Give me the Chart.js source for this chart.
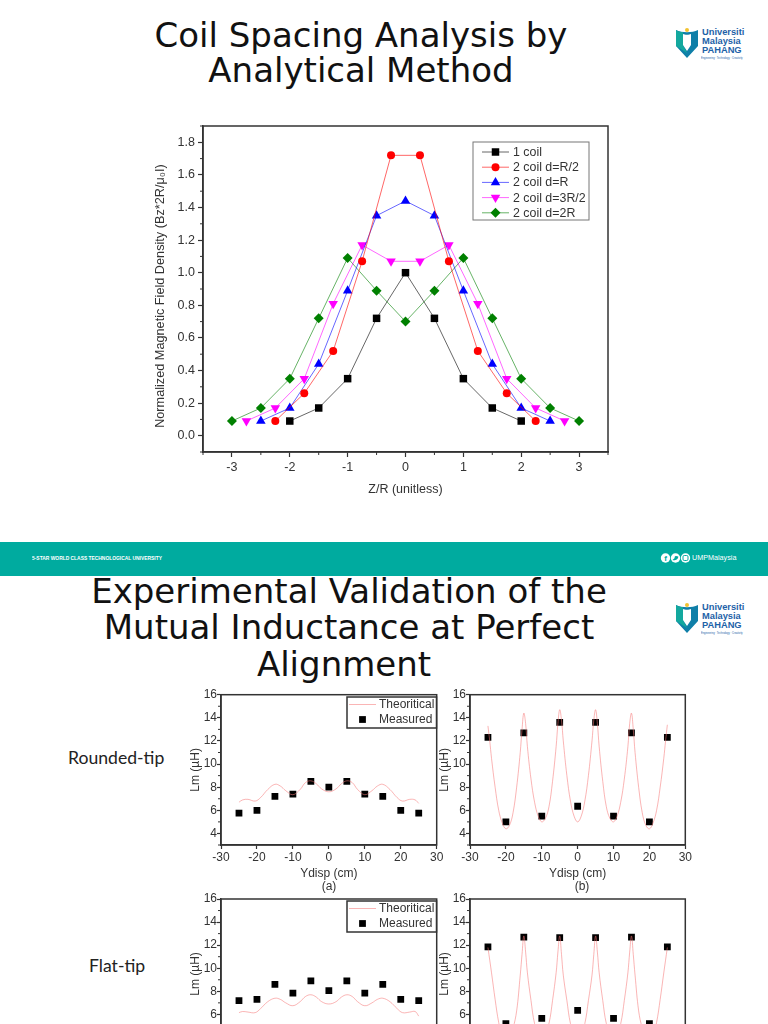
<!DOCTYPE html>
<html>
<head>
<meta charset="utf-8">
<title>Coil Spacing Analysis</title>
<script src="https://cdn.jsdelivr.net/npm/chart.js@4"></script>
<style>
  html, body { margin: 0; padding: 0; background: #fff; }
  body { position: relative; width: 768px; height: 1024px; overflow: hidden; font-family: "DejaVu Sans", sans-serif; color: #111; }
  .title { position: absolute; white-space: nowrap; transform: translateX(-50%); font-size: 34px; line-height: 36px; }
  .side { position: absolute; font: 17.6px Lato, sans-serif; color: #222; white-space: nowrap; }
  .cap { position: absolute; font: 12px "Liberation Sans", sans-serif; color: #333; transform: translateX(-50%); }
  .band { position: absolute; left: 0; top: 542px; width: 768px; height: 34px; background: #00ab9f; color: #fff; }
  .band .l { position: absolute; left: 32px; top: 13px; font: bold 5px "Liberation Sans", sans-serif; white-space: nowrap; transform-origin: left; transform: scaleX(.98); }
  .band .r { position: absolute; left: 692px; top: 11px; font: 8px "Liberation Sans", sans-serif; white-space: nowrap; transform-origin: left; transform: scaleX(.9); }
  .band svg { position: absolute; left: 660px; top: 9px; }
  .logo { position: absolute; left: 675px; width: 72px; height: 32px; }
  .logo svg { position: absolute; left: 0; top: 0; }
  .logo b { position: absolute; left: 27px; font: bold 9.3px "Liberation Sans", sans-serif; color: #1d62a8; }
  .logo i { position: absolute; left: 26px; top: 29px; font: 3px "Liberation Sans", sans-serif; color: #1d62a8; white-space: nowrap; transform-origin: left; transform: scaleX(.85); }
  .box { position: absolute; }
</style>
</head>
<body>
<div class="title" style="left:361px;top:17px">Coil Spacing Analysis by</div>
<div class="title" style="left:361px;top:52px">Analytical Method</div>

<div class="band">
  <div class="l">5-STAR WORLD CLASS TECHNOLOGICAL UNIVERSITY</div>
  <svg width="32" height="14">
    <circle cx="5.5" cy="7" r="4.7" fill="#fff"/><circle cx="15.5" cy="7" r="4.7" fill="#fff"/><circle cx="25.5" cy="7" r="4.7" fill="#fff"/>
    <text x="5.5" y="10" font-size="8" font-family="Liberation Sans" font-weight="bold" text-anchor="middle" fill="#00ab9f">f</text>
    <path d="M12.5 9 C15 10 18.5 8 18.3 5.4 L16 5 C14.5 5 14.5 6.5 14.7 7 Z" fill="#00ab9f"/>
    <rect x="23" y="4.5" width="5" height="5" rx="1.3" fill="none" stroke="#00ab9f"/>
  </svg>
  <div class="r">UMPMalaysia</div>
</div>

<div class="title" style="left:349px;top:573px">Experimental Validation of the</div>
<div class="title" style="left:349px;top:609px">Mutual Inductance at Perfect</div>
<div class="title" style="left:344px;top:646px">Alignment</div>

<div class="side" style="left:68px;top:747px">Rounded-tip</div>
<div class="side" style="left:89px;top:955px">Flat-tip</div>

<div class="logo" style="top:27px" id="logoA"></div>
<div class="logo" style="top:602px" id="logoB"></div>

<div class="box" style="left:140px;top:115px;width:480px;height:385px"><canvas id="chartMain"></canvas></div>
<div class="box" style="left:185px;top:685px;width:275px;height:196px"><canvas id="chartA"></canvas></div>
<div class="box" style="left:434px;top:685px;width:275px;height:196px"><canvas id="chartB"></canvas></div>
<div class="box" style="left:185px;top:889px;width:275px;height:196px"><canvas id="chartC"></canvas></div>
<div class="box" style="left:434px;top:889px;width:275px;height:196px"><canvas id="chartD"></canvas></div>
<div class="cap" style="left:329px;top:879px">(a)</div>
<div class="cap" style="left:582px;top:879px">(b)</div>

<script>
// field density curves
const coil1X = [-2, -1.5, -1, -0.5, 0, 0.5, 1, 1.5, 2];
const coil1Y = [0.09, 0.17, 0.35, 0.72, 1.0, 0.72, 0.35, 0.17, 0.09];
const halfRX = [-2.25, -1.75, -1.25, -0.75, -0.25, 0.25, 0.75, 1.25, 1.75, 2.25];
const halfRY = [0.09, 0.26, 0.52, 1.07, 1.72, 1.72, 1.07, 0.52, 0.26, 0.09];
const oneRX = [-2.5, -2, -1.5, -1, -0.5, 0, 0.5, 1, 1.5, 2, 2.5];
const oneRY = [0.09, 0.17, 0.44, 0.89, 1.35, 1.44, 1.35, 0.89, 0.44, 0.17, 0.09];
const threeHalfX = [-2.75, -2.25, -1.75, -1.25, -0.75, -0.25, 0.25, 0.75, 1.25, 1.75, 2.25, 2.75];
const threeHalfY = [0.09, 0.17, 0.35, 0.81, 1.17, 1.07, 1.07, 1.17, 0.81, 0.35, 0.17, 0.09];
const twoRX = [-3, -2.5, -2, -1.5, -1, -0.5, 0, 0.5, 1, 1.5, 2, 2.5, 3];
const twoRY = [0.09, 0.17, 0.35, 0.72, 1.09, 0.89, 0.70, 0.89, 1.09, 0.72, 0.35, 0.17, 0.09];

const mainXTicks = [-3, -2, -1, 0, 1, 2, 3];
const mainXMinor = [-3.5, -2.5, -1.5, -0.5, 0.5, 1.5, 2.5, 3.5];
const mainYTicks = [0, 0.2, 0.4, 0.6, 0.8, 1.0, 1.2, 1.4, 1.6, 1.8];
const mainYMinor = [-0.1, 0.1, 0.3, 0.5, 0.7, 0.9, 1.1, 1.3, 1.5, 1.7, 1.9];

// mutual inductance panels
const measuredX = [-25, -20, -15, -10, -5, 0, 5, 10, 15, 20, 25];
const measuredA = [5.75, 6.0, 7.2, 7.4, 8.5, 8.0, 8.5, 7.4, 7.2, 6.0, 5.75];
const measuredB = [12.3, 5.0, 12.7, 5.5, 13.6, 6.35, 13.6, 5.5, 12.7, 5.0, 12.3];
const measuredC = [7.2, 7.3, 8.6, 7.85, 8.9, 8.05, 8.9, 7.85, 8.6, 7.3, 7.2];
const measuredD = [11.85, 5.2, 12.7, 5.65, 12.65, 6.35, 12.65, 5.65, 12.7, 5.2, 11.85];

const theoryAX = [-25, -24, -22.5, -20.5, -19, -17, -15, -13.5, -12, -10, -8, -6.5, -5, -3.5, -2, 0, 2, 3.5, 5, 6.5, 8, 10, 12, 13.5, 15, 17, 19, 20.5, 22.5, 24, 25];
const theoryA = [6.7, 6.9, 6.95, 6.8, 7.1, 7.8, 8.25, 8.1, 7.7, 7.35, 7.8, 8.4, 8.55, 8.3, 7.85, 7.6, 7.85, 8.3, 8.55, 8.4, 7.8, 7.35, 7.7, 8.1, 8.25, 7.8, 7.1, 6.8, 6.95, 6.9, 6.6];
const theoryCY = [6.15, 6.25, 6.2, 6.15, 6.5, 7.1, 7.4, 7.3, 7.0, 6.75, 7.1, 7.55, 7.7, 7.5, 7.1, 6.9, 7.1, 7.5, 7.7, 7.55, 7.1, 6.75, 7.0, 7.3, 7.4, 7.1, 6.5, 6.15, 6.2, 6.25, 5.85];

const theoryBX = [-25, -24.5, -24, -23, -22, -21, -20, -19, -18, -17, -16, -15.5, -15, -14.5, -14, -13, -12, -11, -10, -9, -8, -7, -6, -5.5, -5, -4.5, -4, -3, -2, -1, 0, 1, 2, 3, 4, 4.5, 5, 5.5, 6, 7, 8, 9, 10, 11, 12, 13, 14, 14.5, 15, 15.5, 16, 17, 18, 19, 20, 21, 22, 23, 24, 24.5, 25];
const theoryB = [13.3, 12, 10.5, 8, 6, 4.9, 4.4, 4.7, 5.8, 8, 11, 13, 14.4, 13.5, 11.5, 8.7, 6.7, 5.5, 5.0, 5.3, 6.3, 8.5, 11.5, 13.5, 14.7, 13.8, 12, 9, 6.8, 5.5, 5.0, 5.5, 6.8, 9, 12, 13.8, 14.7, 13.5, 11.5, 8.5, 6.3, 5.3, 5.0, 5.5, 6.7, 8.7, 11.5, 13.5, 14.4, 13, 11, 8, 5.8, 4.7, 4.4, 4.9, 6, 8, 10.5, 12, 13.4];
const theoryDX = [-25, -24, -23, -22, -21, -20, -19, -18, -17, -16, -15.5, -15, -14.5, -14, -13, -12, -11, -10, -9, -8, -7, -6, -5.5, -5, -4.5, -4, -3, -2, -1, 0, 1, 2, 3, 4, 4.5, 5, 5.5, 6, 7, 8, 9, 10, 11, 12, 13, 14, 14.5, 15, 15.5, 16, 17, 18, 19, 20, 21, 22, 23, 24, 25];
const theoryD = [11.8, 9.6, 7.3, 5.3, 4.1, 3.6, 3.9, 4.8, 6.3, 9.4, 11.2, 12.8, 11.4, 9.6, 7.2, 5.2, 4.5, 4.4, 4.5, 5.2, 7.2, 9.6, 11.4, 12.8, 11.2, 9.4, 7.2, 5.2, 4.4, 4.2, 4.4, 5.2, 7.2, 9.4, 11.2, 12.8, 11.4, 9.6, 7.2, 5.2, 4.5, 4.4, 4.5, 5.2, 7.2, 9.6, 11.4, 12.8, 11.2, 9.4, 6.3, 4.8, 3.9, 3.6, 4.1, 5.3, 7.3, 9.6, 11.8];

const lmXTicks = [-30, -20, -10, 0, 10, 20, 30];
const lmYTicks = [4, 6, 8, 10, 12, 14, 16];
const lmYMinor = [3, 5, 7, 9, 11, 13, 15];

const axisColor = '#333';
const tickFont = '"Liberation Sans", sans-serif';

function pairs(xs, ys) {
  return xs.map((x, i) => ({ x: x, y: ys[i] }));
}

// outer frame, short minor ticks and the floating legend box
const framePlugin = {
  id: 'frame',
  afterDatasetsDraw(chart, args, opts) {
    const ctx = chart.ctx, a = chart.chartArea;
    ctx.save();
    ctx.strokeStyle = axisColor;
    ctx.lineWidth = 1.5;
    ctx.strokeRect(a.left, a.top, a.right - a.left, a.bottom - a.top);
    ctx.lineWidth = 1;
    ctx.beginPath();
    (opts.xMinor || []).forEach(v => {
      const px = chart.scales.x.getPixelForValue(v);
      ctx.moveTo(px, a.bottom); ctx.lineTo(px, a.bottom + 3);
    });
    (opts.yMinor || []).forEach(v => {
      const py = chart.scales.y.getPixelForValue(v);
      ctx.moveTo(a.left, py); ctx.lineTo(a.left - 3, py);
    });
    ctx.stroke();

    const lg = opts.legend;
    if (!lg) { ctx.restore(); return; }
    ctx.fillStyle = '#fff';
    ctx.fillRect(lg.x, lg.y, lg.w, lg.h);
    ctx.lineWidth = lg.lineWidth;
    ctx.strokeStyle = lg.color;
    ctx.strokeRect(lg.x, lg.y, lg.w, lg.h);
    ctx.font = lg.size + 'px ' + tickFont;
    ctx.textBaseline = 'middle';
    chart.data.datasets.forEach((ds, i) => {
      const y = lg.y + lg.first + i * lg.step;
      if (ds.showLine !== false) {
        ctx.strokeStyle = ds.borderColor;
        ctx.lineWidth = 1;
        ctx.beginPath();
        ctx.moveTo(lg.x + lg.sample0, y); ctx.lineTo(lg.x + lg.sample1, y);
        ctx.stroke();
      }
      if (ds.pointRadius > 0) {
        ctx.fillStyle = ds.pointBackgroundColor;
        ctx.strokeStyle = ds.pointBackgroundColor;
        Chart.helpers.drawPoint(ctx, {
          pointStyle: ds.pointStyle, rotation: ds.pointRotation || 0,
          radius: ds.pointRadius, borderWidth: 0
        }, lg.x + (lg.sample0 + lg.sample1) / 2, y);
      }
      ctx.fillStyle = axisColor;
      ctx.fillText(ds.label, lg.x + lg.textX, y + 0.5);
    });
    ctx.restore();
  }
};

function scaleOpts(o) {
  return {
    type: 'linear',
    min: o.min,
    max: o.max,
    title: { display: true, text: o.title, color: axisColor, padding: o.titlePad, font: { family: tickFont, size: o.titleSize } },
    ticks: { color: axisColor, padding: o.tickPad, maxRotation: 0, autoSkip: false, font: { family: tickFont, size: o.size },
             callback: o.format },
    grid: { drawOnChartArea: false, color: axisColor, tickLength: o.tickLen, tickWidth: 1.2 },
    border: { color: axisColor, width: 1.5 },
    afterBuildTicks: s => { s.ticks = o.ticks.map(v => ({ value: v })); },
    afterFit: s => {
      if (s.axis === 'x') { s.height = o.thick; s.paddingLeft = 0; s.paddingRight = 0; }
      else { s.width = o.thick; s.paddingTop = 0; s.paddingBottom = 0; }
    }
  };
}

function build(id, datasets, padding, xs, ys, frame) {
  return new Chart(document.getElementById(id), {
    type: 'line',
    data: { datasets: datasets },
    options: {
      responsive: true,
      maintainAspectRatio: false,
      animation: false,
      parsing: false,
      layout: { padding: padding },
      plugins: { legend: { display: false }, tooltip: { enabled: false }, frame: frame },
      scales: { x: scaleOpts(xs), y: scaleOpts(ys) }
    },
    plugins: [framePlugin]
  });
}

function series(label, xs, ys, lineColor, markColor, style, radius, rotation) {
  return {
    label: label, data: pairs(xs, ys), borderColor: lineColor, borderWidth: 1, tension: 0,
    pointStyle: style, pointRadius: radius, pointRotation: rotation || 0,
    pointBackgroundColor: markColor, pointBorderColor: markColor, pointBorderWidth: 0
  };
}

build('chartMain', [
  series('1 coil', coil1X, coil1Y, 'rgba(0,0,0,.6)', '#000', 'rect', 5.3),
  series('2 coil d=R/2', halfRX, halfRY, 'rgba(255,0,0,.6)', '#f00', 'circle', 4),
  series('2 coil d=R', oneRX, oneRY, 'rgba(0,0,255,.6)', '#00f', 'triangle', 5.5),
  series('2 coil d=3R/2', threeHalfX, threeHalfY, 'rgba(255,0,255,.6)', '#f0f', 'triangle', 5.5, 180),
  series('2 coil d=2R', twoRX, twoRY, 'rgba(0,128,0,.6)', '#008000', 'rectRot', 5)
], { top: 11, right: 12 },
{ min: -3.5, max: 3.5, ticks: mainXTicks, thick: 48, size: 12.5, tickLen: 5, tickPad: 3, title: 'Z/R (unitless)', titleSize: 12.5, titlePad: { top: 5, bottom: 3 } },
// trailing no-break spaces sit the rotated label a little below the axis centre
{ min: -0.1, max: 1.9, ticks: mainYTicks, thick: 63, size: 12.5, tickLen: 5, tickPad: 3, title: 'Normalized Magnetic Field Density (Bz*2R/\u03bc\u2080I)\u00a0\u00a0\u00a0\u00a0', titleSize: 12.7, titlePad: { top: 13, bottom: 4 },
  format: v => v.toFixed(1) },
{ xMinor: mainXMinor, yMinor: mainYMinor,
  legend: { x: 333, y: 27, w: 116, h: 78, size: 12.4, color: '#777', lineWidth: 1, first: 10, step: 15.2, sample0: 9, sample1: 36, textX: 40 } });

const lineRed = 'rgba(245,120,120,0.55)';

function panel(curveX, curveY, measured) {
  const curve = {
    label: 'Theoritical', data: pairs(curveX, curveY), borderColor: lineRed, borderWidth: 1,
    tension: 0.4, pointRadius: 0, pointStyle: false
  };
  const pts = {
    label: 'Measured', data: pairs(measuredX, measured), showLine: false, borderColor: '#000',
    pointStyle: 'rect', pointRadius: 4.8, pointBackgroundColor: '#000', pointBorderColor: '#000', pointBorderWidth: 0
  };
  return [curve, pts];
}

const lmX = { min: -30, max: 30, ticks: lmXTicks, thick: 36, size: 12, tickLen: 4, tickPad: 1, title: 'Ydisp (cm)', titleSize: 12, titlePad: { top: 7, bottom: 0 } };
const lmY = { min: 3, max: 16, ticks: lmYTicks, thick: 36, size: 12, tickLen: 4, tickPad: 0, title: 'Lm (\u00b5H)', titleSize: 12, titlePad: { top: 3, bottom: 0 } };
const legendLm = { x: 162, y: 12, w: 89.5, h: 31, size: 12, color: '#333', lineWidth: 1.5, first: 7.5, step: 15, sample0: 2, sample1: 29, textX: 32 };

build('chartA', panel(theoryAX, theoryA, measuredA), { top: 9.7, right: 23.3, bottom: 0 }, lmX, lmY, { yMinor: lmYMinor, legend: legendLm });
build('chartB', panel(theoryBX, theoryB, measuredB), { top: 9.7, right: 23.7, bottom: 0 }, lmX, lmY, { yMinor: lmYMinor, legend: null });
build('chartC', panel(theoryAX, theoryCY, measuredC), { top: 10, right: 23.3, bottom: 0 }, lmX, lmY, { yMinor: lmYMinor, legend: legendLm });
build('chartD', panel(theoryDX, theoryD, measuredD), { top: 10, right: 23.7, bottom: 0 }, lmX, lmY, { yMinor: lmYMinor, legend: null });

// university mark, same block on both slides
const mark = '<svg width="24" height="32" viewBox="0 0 24 32"><path d="M1 3 C7 6 17 6 23 3 L23 19 L12 31 L1 19 Z" fill="#0f7fa8"/><path d="M1 3 C4 5 6 5 8 5 L8 18 L12 26 L1 19 Z" fill="#13a89e"/><path d="M8 7 C10 8 14 8 16 7 L16 18 L12 24 L8 18 Z" fill="#fff"/><circle cx="12" cy="3" r="2" fill="#f2c230"/></svg>'
  + '<b style="top:0">Universiti</b><b style="top:9px">Malaysia</b><b style="top:18px">PAHANG</b><i>Engineering \u00b7 Technology \u00b7 Creativity</i>';
document.getElementById('logoA').innerHTML = mark;
document.getElementById('logoB').innerHTML = mark;
</script>
</body>
</html>
